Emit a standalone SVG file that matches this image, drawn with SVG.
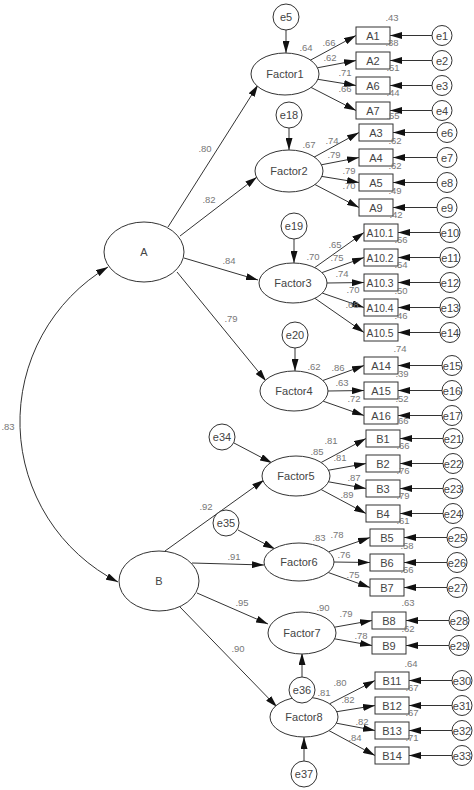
<svg xmlns="http://www.w3.org/2000/svg" width="474" height="790" viewBox="0 0 474 790">
<style>
.bg{fill:#fff}
.n{fill:#fff;stroke:#333;stroke-width:1}
.t{font-family:"Liberation Sans",Arial,sans-serif;font-size:11px;fill:#444;text-anchor:middle}
.s{font-size:10.3px}
.l{font-family:"Liberation Sans",Arial,sans-serif;font-size:9.5px;fill:#777;text-anchor:middle}
.c line,.c path{stroke:#333;stroke-width:1;fill:none;marker-end:url(#ah)}
</style>
<defs>
<marker id="ah" viewBox="0 0 12 7" refX="12" refY="3.5" markerWidth="12" markerHeight="7" markerUnits="userSpaceOnUse" orient="auto-start-reverse"><path d="M0,0 L12,3.5 L0,7 z" fill="#111"/></marker>
</defs>
<rect class="bg" x="0" y="0" width="474" height="790"/>

<g id="connectors" class="c">
<path d="M108 267 A180 180 0 0 0 118 582" style="marker-start:url(#ah)"/>
<line x1="168" y1="227" x2="258" y2="85"/>
<line x1="180" y1="236" x2="257" y2="177"/>
<line x1="184" y1="258" x2="258" y2="280"/>
<line x1="177" y1="272" x2="266" y2="381"/>
<line x1="165" y1="551" x2="264" y2="480"/>
<line x1="192" y1="563" x2="264" y2="565"/>
<line x1="197" y1="593" x2="268" y2="624"/>
<line x1="180" y1="607" x2="277" y2="707"/>
<line x1="286" y1="30" x2="286" y2="53"/>
<line x1="289" y1="128" x2="289" y2="150"/>
<line x1="294" y1="239" x2="294" y2="263"/>
<line x1="295" y1="348" x2="295" y2="371"/>
<line x1="234" y1="443" x2="272" y2="463"/>
<line x1="238" y1="530" x2="275" y2="549"/>
<line x1="302" y1="677" x2="302" y2="653"/>
<line x1="304" y1="761" x2="304" y2="737"/>
<line x1="310" y1="60.4" x2="356" y2="35.5"/>
<line x1="317.4" y1="67.8" x2="356" y2="60.5"/>
<line x1="317.8" y1="79.3" x2="356" y2="85.5"/>
<line x1="310.6" y1="87.2" x2="356" y2="110.5"/>
<line x1="313.8" y1="157.3" x2="359" y2="132.5"/>
<line x1="321.3" y1="164.8" x2="359" y2="157.5"/>
<line x1="321.7" y1="176.4" x2="359" y2="182.5"/>
<line x1="314.5" y1="184.3" x2="359" y2="207.5"/>
<line x1="314.7" y1="267.6" x2="364" y2="232.5"/>
<line x1="322" y1="272.6" x2="364" y2="257.5"/>
<line x1="327" y1="283" x2="364" y2="282.5"/>
<line x1="322.3" y1="293.1" x2="364" y2="307.5"/>
<line x1="314.9" y1="298.3" x2="364" y2="332.5"/>
<line x1="322.9" y1="380.5" x2="364" y2="365.5"/>
<line x1="328" y1="391" x2="364" y2="390.5"/>
<line x1="323.2" y1="401.2" x2="364" y2="415.5"/>
<line x1="321.1" y1="462.5" x2="366" y2="438.5"/>
<line x1="328.5" y1="470.2" x2="366" y2="463.5"/>
<line x1="328.5" y1="481.8" x2="366" y2="488.5"/>
<line x1="321.1" y1="489.5" x2="366" y2="513.5"/>
<line x1="328.3" y1="551.9" x2="370" y2="537.5"/>
<line x1="333" y1="562" x2="370" y2="562.5"/>
<line x1="328" y1="572.4" x2="370" y2="587.5"/>
<line x1="334.5" y1="627.2" x2="372" y2="620.5"/>
<line x1="334.5" y1="638.8" x2="372" y2="645.5"/>
<line x1="329.6" y1="703.8" x2="375" y2="680.5"/>
<line x1="336.8" y1="711.7" x2="375" y2="705.5"/>
<line x1="336.4" y1="723.2" x2="375" y2="730.5"/>
<line x1="329" y1="730.6" x2="375" y2="755.5"/>
<line x1="432" y1="35.5" x2="390" y2="35.5"/>
<line x1="432" y1="60.5" x2="390" y2="60.5"/>
<line x1="432" y1="85.5" x2="390" y2="85.5"/>
<line x1="432" y1="110.5" x2="390" y2="110.5"/>
<line x1="437" y1="132.5" x2="393" y2="132.5"/>
<line x1="437" y1="157.5" x2="393" y2="157.5"/>
<line x1="437" y1="182.5" x2="393" y2="182.5"/>
<line x1="437" y1="207.5" x2="393" y2="207.5"/>
<line x1="440" y1="232.5" x2="398" y2="232.5"/>
<line x1="440" y1="257.5" x2="398" y2="257.5"/>
<line x1="440" y1="282.5" x2="398" y2="282.5"/>
<line x1="440" y1="307.5" x2="398" y2="307.5"/>
<line x1="440" y1="332.5" x2="398" y2="332.5"/>
<line x1="442" y1="365.5" x2="398" y2="365.5"/>
<line x1="442" y1="390.5" x2="398" y2="390.5"/>
<line x1="442" y1="415.5" x2="398" y2="415.5"/>
<line x1="443" y1="438.5" x2="400" y2="438.5"/>
<line x1="443" y1="463.5" x2="400" y2="463.5"/>
<line x1="443" y1="488.5" x2="400" y2="488.5"/>
<line x1="443" y1="513.5" x2="400" y2="513.5"/>
<line x1="447" y1="537.5" x2="404" y2="537.5"/>
<line x1="447" y1="562.5" x2="404" y2="562.5"/>
<line x1="447" y1="587.5" x2="404" y2="587.5"/>
<line x1="449" y1="620.5" x2="406" y2="620.5"/>
<line x1="449" y1="645.5" x2="406" y2="645.5"/>
<line x1="452" y1="680.5" x2="409" y2="680.5"/>
<line x1="452" y1="705.5" x2="409" y2="705.5"/>
<line x1="452" y1="730.5" x2="409" y2="730.5"/>
<line x1="452" y1="755.5" x2="409" y2="755.5"/>
</g>

<g id="A"><ellipse class="n" cx="144" cy="252" rx="40" ry="30"/><text class="t" x="144" y="256">A</text></g>
<g id="B"><ellipse class="n" cx="159" cy="581" rx="40" ry="30"/><text class="t" x="159" y="585">B</text></g>

<g id="Factor1"><ellipse class="n" cx="285" cy="74" rx="34" ry="21"/><text class="t" x="285" y="78">Factor1</text></g>
<g id="Factor2"><ellipse class="n" cx="289" cy="171" rx="34" ry="21"/><text class="t" x="289" y="175">Factor2</text></g>
<g id="Factor3"><ellipse class="n" cx="293" cy="283" rx="34" ry="20"/><text class="t" x="293" y="287">Factor3</text></g>
<g id="Factor4"><ellipse class="n" cx="294" cy="391" rx="34" ry="20"/><text class="t" x="294" y="395">Factor4</text></g>
<g id="Factor5"><ellipse class="n" cx="296" cy="476" rx="34" ry="20"/><text class="t" x="296" y="480">Factor5</text></g>
<g id="Factor6"><ellipse class="n" cx="299" cy="562" rx="35" ry="19"/><text class="t" x="299" y="566">Factor6</text></g>
<g id="Factor7"><ellipse class="n" cx="302" cy="633" rx="34" ry="21"/><text class="t" x="302" y="637">Factor7</text></g>
<g id="Factor8"><ellipse class="n" cx="304" cy="717" rx="34" ry="20"/><text class="t" x="304" y="721">Factor8</text></g>

<g id="e5"><circle class="n" cx="286" cy="17" r="13"/><text class="t" x="286" y="21">e5</text></g>
<g id="e18"><circle class="n" cx="289" cy="115" r="13"/><text class="t" x="289" y="119">e18</text></g>
<g id="e19"><circle class="n" cx="294" cy="226" r="13"/><text class="t" x="294" y="230">e19</text></g>
<g id="e20"><circle class="n" cx="295" cy="335" r="13"/><text class="t" x="295" y="339">e20</text></g>
<g id="e34"><circle class="n" cx="222" cy="437" r="13"/><text class="t" x="222" y="441">e34</text></g>
<g id="e35"><circle class="n" cx="226" cy="523" r="13"/><text class="t" x="226" y="527">e35</text></g>
<g id="e36"><circle class="n" cx="302" cy="690" r="13"/><text class="t" x="302" y="694">e36</text></g>
<g id="e37"><circle class="n" cx="304" cy="774" r="13"/><text class="t" x="304" y="778">e37</text></g>

<g id="A1"><rect class="n" x="356" y="27" width="34" height="17"/><text class="t" x="373" y="39.5">A1</text></g>
<g id="A2"><rect class="n" x="356" y="52" width="34" height="17"/><text class="t" x="373" y="64.5">A2</text></g>
<g id="A6"><rect class="n" x="356" y="77" width="34" height="17"/><text class="t" x="373" y="89.5">A6</text></g>
<g id="A7"><rect class="n" x="356" y="102" width="34" height="17"/><text class="t" x="373" y="114.5">A7</text></g>
<g id="A3"><rect class="n" x="359" y="124" width="34" height="17"/><text class="t" x="376" y="136.5">A3</text></g>
<g id="A4"><rect class="n" x="359" y="149" width="34" height="17"/><text class="t" x="376" y="161.5">A4</text></g>
<g id="A5"><rect class="n" x="359" y="174" width="34" height="17"/><text class="t" x="376" y="186.5">A5</text></g>
<g id="A9"><rect class="n" x="359" y="199" width="34" height="17"/><text class="t" x="376" y="211.5">A9</text></g>
<g id="A10.1"><rect class="n" x="364" y="224" width="34" height="17"/><text class="t s" x="380" y="236.5">A10.1</text></g>
<g id="A10.2"><rect class="n" x="364" y="249" width="34" height="17"/><text class="t s" x="380" y="261.5">A10.2</text></g>
<g id="A10.3"><rect class="n" x="364" y="274" width="34" height="17"/><text class="t s" x="380" y="286.5">A10.3</text></g>
<g id="A10.4"><rect class="n" x="364" y="299" width="34" height="17"/><text class="t s" x="380" y="311.5">A10.4</text></g>
<g id="A10.5"><rect class="n" x="364" y="324" width="34" height="17"/><text class="t s" x="380" y="336.5">A10.5</text></g>
<g id="A14"><rect class="n" x="364" y="357" width="34" height="17"/><text class="t" x="381" y="369.5">A14</text></g>
<g id="A15"><rect class="n" x="364" y="382" width="34" height="17"/><text class="t" x="381" y="394.5">A15</text></g>
<g id="A16"><rect class="n" x="364" y="407" width="34" height="17"/><text class="t" x="381" y="419.5">A16</text></g>
<g id="B1"><rect class="n" x="366" y="430" width="34" height="17"/><text class="t" x="383" y="442.5">B1</text></g>
<g id="B2"><rect class="n" x="366" y="455" width="34" height="17"/><text class="t" x="383" y="467.5">B2</text></g>
<g id="B3"><rect class="n" x="366" y="480" width="34" height="17"/><text class="t" x="383" y="492.5">B3</text></g>
<g id="B4"><rect class="n" x="366" y="505" width="34" height="17"/><text class="t" x="383" y="517.5">B4</text></g>
<g id="B5"><rect class="n" x="370" y="529" width="34" height="17"/><text class="t" x="387" y="541.5">B5</text></g>
<g id="B6"><rect class="n" x="370" y="554" width="34" height="17"/><text class="t" x="387" y="566.5">B6</text></g>
<g id="B7"><rect class="n" x="370" y="579" width="34" height="17"/><text class="t" x="387" y="591.5">B7</text></g>
<g id="B8"><rect class="n" x="372" y="612" width="34" height="17"/><text class="t" x="389" y="624.5">B8</text></g>
<g id="B9"><rect class="n" x="372" y="637" width="34" height="17"/><text class="t" x="389" y="649.5">B9</text></g>
<g id="B11"><rect class="n" x="375" y="672" width="34" height="17"/><text class="t" x="392" y="684.5">B11</text></g>
<g id="B12"><rect class="n" x="375" y="697" width="34" height="17"/><text class="t" x="392" y="709.5">B12</text></g>
<g id="B13"><rect class="n" x="375" y="722" width="34" height="17"/><text class="t" x="392" y="734.5">B13</text></g>
<g id="B14"><rect class="n" x="375" y="747" width="34" height="17"/><text class="t" x="392" y="759.5">B14</text></g>

<g id="e1"><circle class="n" cx="442" cy="35.5" r="10"/><text class="t" x="442" y="39.5">e1</text></g>
<g id="e2"><circle class="n" cx="442" cy="60.5" r="10"/><text class="t" x="442" y="64.5">e2</text></g>
<g id="e3"><circle class="n" cx="442" cy="85.5" r="10"/><text class="t" x="442" y="89.5">e3</text></g>
<g id="e4"><circle class="n" cx="442" cy="110.5" r="10"/><text class="t" x="442" y="114.5">e4</text></g>
<g id="e6"><circle class="n" cx="447" cy="132.5" r="10"/><text class="t" x="447" y="136.5">e6</text></g>
<g id="e7"><circle class="n" cx="447" cy="157.5" r="10"/><text class="t" x="447" y="161.5">e7</text></g>
<g id="e8"><circle class="n" cx="447" cy="182.5" r="10"/><text class="t" x="447" y="186.5">e8</text></g>
<g id="e9"><circle class="n" cx="447" cy="207.5" r="10"/><text class="t" x="447" y="211.5">e9</text></g>
<g id="e10"><circle class="n" cx="450" cy="232.5" r="10"/><text class="t" x="450" y="236.5">e10</text></g>
<g id="e11"><circle class="n" cx="450" cy="257.5" r="10"/><text class="t" x="450" y="261.5">e11</text></g>
<g id="e12"><circle class="n" cx="450" cy="282.5" r="10"/><text class="t" x="450" y="286.5">e12</text></g>
<g id="e13"><circle class="n" cx="450" cy="307.5" r="10"/><text class="t" x="450" y="311.5">e13</text></g>
<g id="e14"><circle class="n" cx="450" cy="332.5" r="10"/><text class="t" x="450" y="336.5">e14</text></g>
<g id="e15"><circle class="n" cx="452" cy="365.5" r="10"/><text class="t" x="452" y="369.5">e15</text></g>
<g id="e16"><circle class="n" cx="452" cy="390.5" r="10"/><text class="t" x="452" y="394.5">e16</text></g>
<g id="e17"><circle class="n" cx="452" cy="415.5" r="10"/><text class="t" x="452" y="419.5">e17</text></g>
<g id="e21"><circle class="n" cx="453" cy="438.5" r="10"/><text class="t" x="453" y="442.5">e21</text></g>
<g id="e22"><circle class="n" cx="453" cy="463.5" r="10"/><text class="t" x="453" y="467.5">e22</text></g>
<g id="e23"><circle class="n" cx="453" cy="488.5" r="10"/><text class="t" x="453" y="492.5">e23</text></g>
<g id="e24"><circle class="n" cx="453" cy="513.5" r="10"/><text class="t" x="453" y="517.5">e24</text></g>
<g id="e25"><circle class="n" cx="457" cy="537.5" r="10"/><text class="t" x="457" y="541.5">e25</text></g>
<g id="e26"><circle class="n" cx="457" cy="562.5" r="10"/><text class="t" x="457" y="566.5">e26</text></g>
<g id="e27"><circle class="n" cx="457" cy="587.5" r="10"/><text class="t" x="457" y="591.5">e27</text></g>
<g id="e28"><circle class="n" cx="459" cy="620.5" r="10"/><text class="t" x="459" y="624.5">e28</text></g>
<g id="e29"><circle class="n" cx="459" cy="645.5" r="10"/><text class="t" x="459" y="649.5">e29</text></g>
<g id="e30"><circle class="n" cx="462" cy="680.5" r="10"/><text class="t" x="462" y="684.5">e30</text></g>
<g id="e31"><circle class="n" cx="462" cy="705.5" r="10"/><text class="t" x="462" y="709.5">e31</text></g>
<g id="e32"><circle class="n" cx="462" cy="730.5" r="10"/><text class="t" x="462" y="734.5">e32</text></g>
<g id="e33"><circle class="n" cx="462" cy="755.5" r="10"/><text class="t" x="462" y="759.5">e33</text></g>

<g id="labels" class="l">
<text class="l" x="8" y="430">.83</text>
<text class="l" x="205" y="152">.80</text>
<text class="l" x="209" y="203">.82</text>
<text class="l" x="229" y="264">.84</text>
<text class="l" x="231" y="322">.79</text>
<text class="l" x="206" y="510">.92</text>
<text class="l" x="234" y="560">.91</text>
<text class="l" x="242" y="606">.95</text>
<text class="l" x="238" y="652">.90</text>
<text class="l" x="306" y="51">.64</text>
<text class="l" x="309" y="148">.67</text>
<text class="l" x="313" y="260">.70</text>
<text class="l" x="314" y="370">.62</text>
<text class="l" x="317" y="455">.85</text>
<text class="l" x="319" y="541">.83</text>
<text class="l" x="323" y="611">.90</text>
<text class="l" x="324" y="696">.81</text>
<text class="l" x="329" y="46">.66</text>
<text class="l" x="330" y="61">.62</text>
<text class="l" x="345" y="76">.71</text>
<text class="l" x="345" y="92">.66</text>
<text class="l" x="332" y="144">.74</text>
<text class="l" x="334" y="158">.79</text>
<text class="l" x="349" y="174">.79</text>
<text class="l" x="349" y="189">.70</text>
<text class="l" x="335" y="248">.65</text>
<text class="l" x="337" y="261">.75</text>
<text class="l" x="342" y="277">.74</text>
<text class="l" x="353" y="293">.70</text>
<text class="l" x="352" y="308">.68</text>
<text class="l" x="338" y="371">.86</text>
<text class="l" x="342" y="386">.63</text>
<text class="l" x="354" y="402">.72</text>
<text class="l" x="331" y="444">.81</text>
<text class="l" x="340" y="461">.81</text>
<text class="l" x="354" y="481">.87</text>
<text class="l" x="347" y="498">.89</text>
<text class="l" x="337" y="538">.78</text>
<text class="l" x="344" y="558">.76</text>
<text class="l" x="353" y="578">.75</text>
<text class="l" x="346" y="617">.79</text>
<text class="l" x="361" y="639">.78</text>
<text class="l" x="340" y="686">.80</text>
<text class="l" x="348" y="703">.82</text>
<text class="l" x="362" y="725">.82</text>
<text class="l" x="355" y="741">.84</text>
<text class="l" x="392" y="21">.43</text>
<text class="l" x="392" y="46">.38</text>
<text class="l" x="393" y="71">.51</text>
<text class="l" x="393" y="96">.44</text>
<text class="l" x="393" y="119">.55</text>
<text class="l" x="395" y="144">.62</text>
<text class="l" x="395" y="169">.62</text>
<text class="l" x="395" y="194">.49</text>
<text class="l" x="396" y="218">.42</text>
<text class="l" x="401" y="243">.56</text>
<text class="l" x="401" y="268">.54</text>
<text class="l" x="401" y="294">.50</text>
<text class="l" x="401" y="319">.46</text>
<text class="l" x="400" y="352">.74</text>
<text class="l" x="402" y="377">.39</text>
<text class="l" x="402" y="402">.52</text>
<text class="l" x="402" y="424">.66</text>
<text class="l" x="403" y="449">.66</text>
<text class="l" x="403" y="474">.76</text>
<text class="l" x="403" y="499">.79</text>
<text class="l" x="403" y="524">.61</text>
<text class="l" x="407" y="549">.58</text>
<text class="l" x="407" y="573">.56</text>
<text class="l" x="408" y="606">.63</text>
<text class="l" x="408" y="632">.62</text>
<text class="l" x="411" y="667">.64</text>
<text class="l" x="412" y="691">.67</text>
<text class="l" x="412" y="716">.67</text>
<text class="l" x="412" y="741">.71</text>
</g>
</svg>
